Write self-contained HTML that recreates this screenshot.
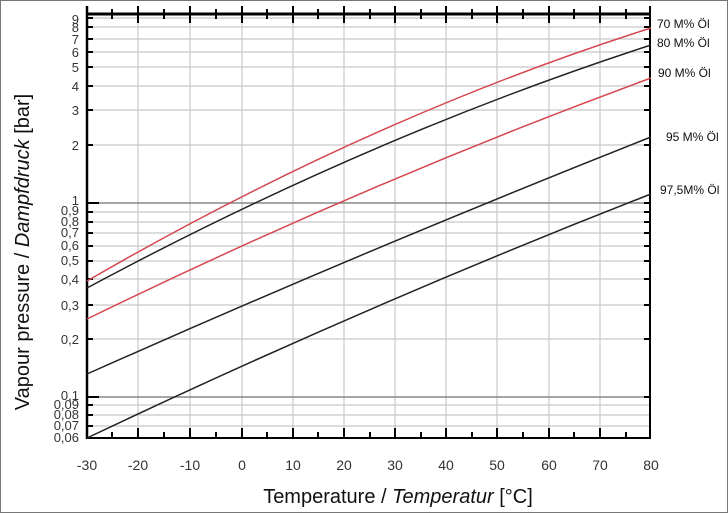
<!DOCTYPE html><html><head><style>body{margin:0;background:#fff}svg{display:block}text{font-family:"Liberation Sans",sans-serif}</style></head><body>
<svg width="728" height="513" viewBox="0 0 728 513">
<rect x="0.5" y="0.5" width="727" height="512" fill="#fff" stroke="#777"/>
<g stroke="#c8c8c8" stroke-width="1.2">
<line x1="87" x2="651" y1="18" y2="18"/><line x1="87" x2="651" y1="27" y2="27"/><line x1="87" x2="651" y1="39" y2="39"/><line x1="87" x2="651" y1="52" y2="52"/><line x1="87" x2="651" y1="67" y2="67"/><line x1="87" x2="651" y1="86" y2="86"/><line x1="87" x2="651" y1="110" y2="110"/><line x1="87" x2="651" y1="145" y2="145"/>
<line x1="87" x2="651" y1="212" y2="212"/><line x1="87" x2="651" y1="222" y2="222"/><line x1="87" x2="651" y1="233" y2="233"/><line x1="87" x2="651" y1="246" y2="246"/><line x1="87" x2="651" y1="261" y2="261"/><line x1="87" x2="651" y1="279" y2="279"/><line x1="87" x2="651" y1="305" y2="305"/><line x1="87" x2="651" y1="339" y2="339"/>
<line x1="87" x2="651" y1="405" y2="405"/><line x1="87" x2="651" y1="415" y2="415"/><line x1="87" x2="651" y1="426" y2="426"/>
<line x1="138" x2="138" y1="14" y2="438"/><line x1="190" x2="190" y1="14" y2="438"/><line x1="242" x2="242" y1="14" y2="438"/><line x1="293" x2="293" y1="14" y2="438"/><line x1="344" x2="344" y1="14" y2="438"/><line x1="395" x2="395" y1="14" y2="438"/><line x1="446" x2="446" y1="14" y2="438"/><line x1="497" x2="497" y1="14" y2="438"/><line x1="549" x2="549" y1="14" y2="438"/><line x1="600" x2="600" y1="14" y2="438"/>
</g>
<g stroke="#888" stroke-width="1.5"><line x1="87" x2="651" y1="203" y2="203"/><line x1="87" x2="651" y1="397" y2="397"/></g>
<g stroke="#000">
<line x1="87" x2="651" y1="14" y2="14" stroke-width="3"/>
<line x1="87" x2="651" y1="438" y2="438" stroke-width="2"/>
<line x1="87" x2="87" y1="6" y2="439" stroke-width="2.5"/>
<line x1="650" x2="650" y1="6" y2="439" stroke-width="2"/>
<g stroke-width="2">
<path d="M87 6v17M138 6v17M190 6v17M242 6v17M293 6v17M344 6v17M395 6v17M446 6v17M497 6v17M549 6v17M600 6v17"/>
<path d="M112 9v10M164 9v10M216 9v10M267 9v10M318 9v10M370 9v10M421 9v10M472 9v10M523 9v10M574 9v10M626 9v10"/>
<path d="M138 438v-10M190 438v-10M242 438v-10M293 438v-10M344 438v-10M395 438v-10M446 438v-10M497 438v-10M549 438v-10M600 438v-10"/>
<path d="M112 438v-6M164 438v-6M216 438v-6M267 438v-6M318 438v-6M370 438v-6M421 438v-6M472 438v-6M523 438v-6M574 438v-6M626 438v-6"/>
<path d="M87 18h6M87 27h6M87 39h6M87 52h6M87 67h6M87 86h6M87 110h6M87 145h6M87 203h12M87 212h6M87 222h6M87 233h6M87 246h6M87 261h6M87 279h6M87 305h6M87 339h6M87 397h12M87 405h6M87 415h6M87 426h6"/>
<path d="M650 18h-6M650 27h-6M650 39h-6M650 52h-6M650 67h-6M650 86h-6M650 110h-6M650 145h-6M650 203h-6M650 212h-6M650 222h-6M650 233h-6M650 246h-6M650 261h-6M650 279h-6M650 305h-6M650 339h-6M650 397h-6"/>
</g></g>
<g fill="none" stroke-width="1.5">
<path stroke="#d4474f" d="M87 281 Q369 117.5 651 28"/>
<path stroke="#222" d="M87 288 Q369 136.5 651 45"/>
<path stroke="#d4474f" d="M87 319 Q369 181.5 651 78"/>
<path stroke="#222" d="M87 374 Q369 248.5 651 137"/>
<path stroke="#222" d="M87 438 Q369 304 651 194"/>
</g>
<g font-size="13" fill="#333" text-anchor="end">
<text x="79" y="24">9</text><text x="79" y="32">8</text><text x="79" y="44">7</text><text x="79" y="57">6</text><text x="79" y="72">5</text><text x="79" y="91">4</text><text x="79" y="115">3</text><text x="79" y="150">2</text>
<text x="79" y="205">1</text><text x="79" y="215">0,9</text><text x="79" y="226">0,8</text><text x="79" y="237">0,7</text><text x="79" y="250">0,6</text><text x="79" y="265">0,5</text><text x="79" y="284">0,4</text><text x="79" y="310">0,3</text><text x="79" y="344">0,2</text>
<text x="79" y="400">0,1</text><text x="79" y="409">0,09</text><text x="79" y="419">0,08</text><text x="79" y="430">0,07</text><text x="79" y="442">0,06</text>
</g>
<g font-size="14" fill="#333" text-anchor="middle">
<text x="87" y="470">-30</text><text x="138" y="470">-20</text><text x="190" y="470">-10</text><text x="242" y="470">0</text><text x="293" y="470">10</text><text x="344" y="470">20</text><text x="395" y="470">30</text><text x="446" y="470">40</text><text x="497" y="470">50</text><text x="549" y="470">60</text><text x="600" y="470">70</text><text x="651" y="470">80</text>
</g>
<g font-size="12" fill="#111">
<text x="657" y="28">70 M% Öl</text><text x="657" y="47">80 M% Öl</text><text x="658" y="77">90 M% Öl</text><text x="666" y="141">95 M% Öl</text><text x="660" y="194">97,5M% Öl</text>
</g>
<text x="398" y="503" font-size="20" text-anchor="middle" fill="#111">Temperature / <tspan font-style="italic">Temperatur</tspan> [°C]</text>
<text transform="translate(29,252) rotate(-90)" font-size="20" text-anchor="middle" fill="#111">Vapour pressure / <tspan font-style="italic">Dampfdruck</tspan> [bar]</text>
</svg></body></html>
